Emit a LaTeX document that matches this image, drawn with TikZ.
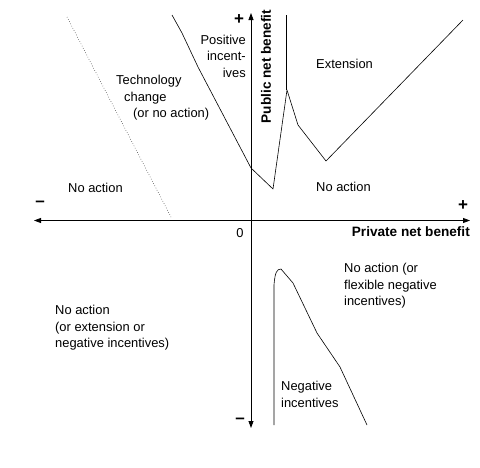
\documentclass[tikz,border=0pt]{standalone}
\usepackage{fontspec}
\setmainfont{Liberation Sans}
\usetikzlibrary{arrows.meta}
\begin{document}
\begin{tikzpicture}[x=1pt,y=-1pt,
  lbl/.style={font=\fontsize{12.9}{16.5}\selectfont, inner sep=0pt, align=left},
  axlbl/.style={font=\fontsize{13.6}{14}\selectfont\bfseries, inner sep=0pt},
  sgn/.style={font=\fontsize{17}{17}\selectfont\bfseries, inner sep=0pt},
  axis/.style={line width=0.8pt, -{Triangle[length=7pt,width=5pt]}},
  crv/.style={line width=0.6pt, line join=round}]
\useasboundingbox (0,0) rectangle (480,467);
% axes
\coordinate (O) at (251,220.5);
\coordinate (Top) at (251,13);
\coordinate (Bot) at (251,428);
\coordinate (Left) at (34,220.5);
\coordinate (Right) at (470,220.5);
\draw[axis] (O) -- (Top);
\draw[axis] (O) -- (Bot);
\draw[axis] (O) -- (Left);
\draw[axis] (O) -- (Right);
% signs
\node[sgn] (pt) at (239,20) {+};
\node[sgn] (pr) at (463,206) {+};
\node[sgn] (ml) at (40,204) {\char"2013};
\node[sgn] (mb) at (240,421) {\char"2013};
\node[lbl] (zero) at (240,233) {0};
% axis labels
\node[axlbl, anchor=east] (xl) at (470,232) {Private net benefit};
\node[axlbl, rotate=90] (yl) at (266,66.5) {Public net benefit};
% curves
\draw[dotted, line width=0.5pt] (67,17) -- (171,217);
\draw[crv] (172,15) -- (182,33) -- (198,67) -- (251,168) -- (273,189) -- (287,90) -- (298,125) -- (326,161) -- (463,20);
\draw[crv] (286,15) -- (286,90);
\draw[crv] (274,425) -- (274,285) .. controls (275,272) and (277,269) .. (281,269) -- (293,283) -- (317,333) -- (340,367) -- (367,425);
% region labels
\node[lbl, anchor=west] (tech1) at (116,81) {Technology};
\node[lbl, anchor=west] (tech2) at (124,98) {change};
\node[lbl, anchor=west] (tech3) at (133,114.5) {(or no action)};
\node[lbl, anchor=west] (na1) at (68,188) {No action};
\node[lbl, anchor=east, align=right] (pos) at (246,56) {Positive\\incent-\\ives};
\node[lbl, anchor=west] (ext) at (316,64) {Extension};
\node[lbl, anchor=west] (na2) at (316,187) {No action};
\node[lbl, anchor=north west] (na3) at (344,263) {No action (or\\flexible negative\\incentives)};
\node[lbl, anchor=north west] (na4) at (55,305) {No action\\(or extension or\\negative incentives)};
\node[lbl, anchor=north west] (neg) at (281,381) {Negative\\incentives};
\end{tikzpicture}
\end{document}
